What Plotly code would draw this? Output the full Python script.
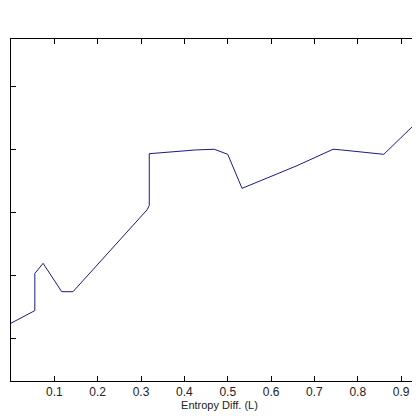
import plotly.graph_objects as go

x_vals = [0.0, 0.055, 0.055, 0.074, 0.117, 0.143, 0.314, 0.319, 0.319, 0.427, 0.469, 0.500, 0.533, 0.660, 0.743, 0.762, 0.860, 0.962]
y_vals = [0.25, 0.45, 1.04, 1.20, 0.75, 0.75, 2.05, 2.12, 2.94, 3.0, 3.01, 2.93, 2.39, 2.75, 3.01, 3.0, 2.93, 3.61]
x_ticks = [0, 0.1, 0.2, 0.3, 0.4, 0.5, 0.6, 0.7, 0.8, 0.9]
x_tick_text = ["0", "0.1", "0.2", "0.3", "0.4", "0.5", "0.6", "0.7", "0.8", "0.9"]
y_ticks = [0, 1, 2, 3, 4]

fig = go.Figure(go.Scatter(x=x_vals, y=y_vals, mode="lines",
                           line=dict(color="#1a1a80", width=1)))
fig.update_layout(
    width=420, height=420, margin=dict(l=3, r=0, t=31, b=47, autoexpand=False),
    paper_bgcolor="white", plot_bgcolor="white", showlegend=False,
    font=dict(family="Liberation Sans", size=12, color="#222"),
)
fig.update_xaxes(range=[0, 0.962], tickvals=x_ticks, ticktext=x_tick_text,
                 ticks="inside", ticklen=5, tickcolor="black", showline=True,
                 linecolor="black", linewidth=1, mirror="ticks", showgrid=False,
                 zeroline=False, automargin=False,
                 title=dict(text="Entropy Diff. (L)", standoff=2, font=dict(size=11)))
fig.update_yaxes(range=[-0.667, 4.76], tickvals=y_ticks, showticklabels=False,
                 ticks="inside", ticklen=5, tickcolor="black", showline=True,
                 linecolor="black", linewidth=1, showgrid=False, zeroline=False,
                 automargin=False)
fig.write_html("out.html")
